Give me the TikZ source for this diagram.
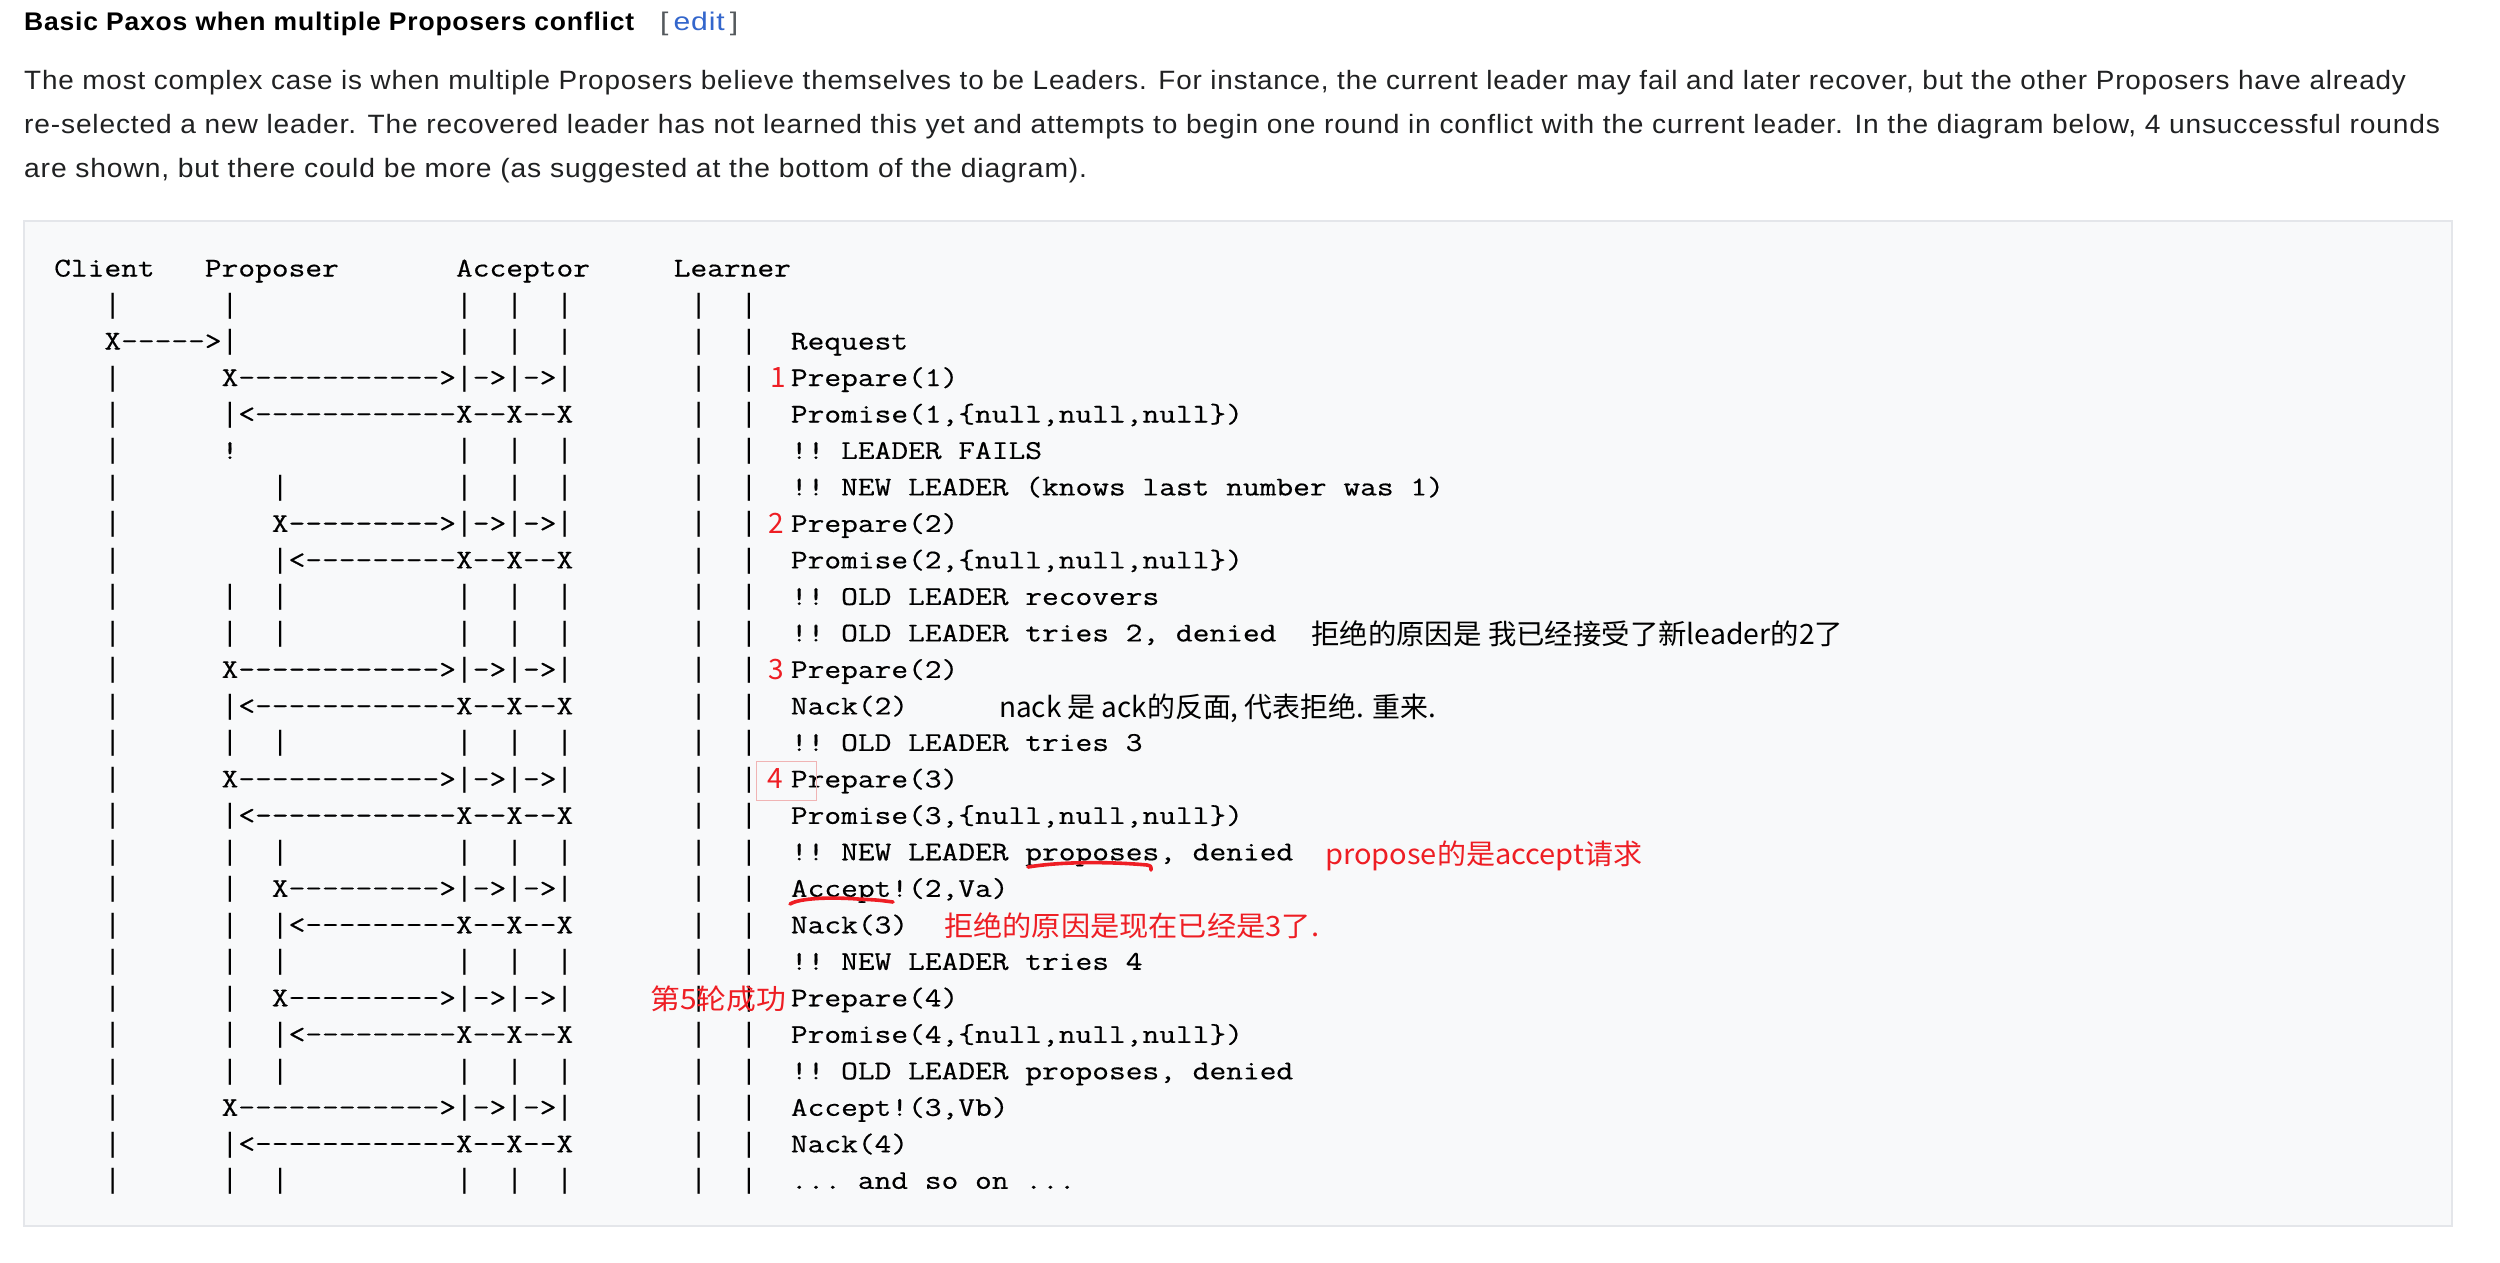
\documentclass[tikz,border=0pt]{standalone}
\usepackage{fontspec}
\usepackage{graphicx}
\setmainfont{Liberation Sans}
\newfontfamily\monof[Ligatures=TeXOff,FakeStretch=1.2,FakeBold=0.5]{Latin Modern Mono}
\newfontfamily\barf{Liberation Mono}
\newfontfamily\parf[LetterSpace=3]{Liberation Sans}
\newfontfamily\cjk{Noto Sans CJK SC}
\definecolor{annred}{RGB}{238,30,36}
\definecolor{boxbg}{RGB}{248,249,250}
\definecolor{boxline}{RGB}{228,230,234}
\definecolor{bodytext}{RGB}{32,33,34}
\definecolor{linkblue}{RGB}{51,102,204}
\definecolor{brackgray}{RGB}{84,89,93}
\definecolor{pinkbox}{RGB}{240,180,180}
\newlength\fitw
\newlength\mcw
\newcommand\fitto[2]{\settowidth\fitw{#2}\pgfmathsetmacro\fitf{#1/\fitw}\scalebox{\fitf}[1]{#2}}
% monospace font scaled so that one character cell is 16.743pt wide
\newcommand\monosetup{\monof\fontsize{27.7}{30}\selectfont
  \setlength\mcw{\fontcharwd\font`M}\pgfmathsetmacro\msz{27.7*16.743/\mcw}%
  \fontsize{\msz}{30}\selectfont\frenchspacing
  \fontdimen2\font=\fontcharwd\font`M\relax\fontdimen3\font=0pt\relax\fontdimen4\font=0pt\relax}
\newcommand\Sp[1]{\hspace*{#1\fontcharwd\font`M}}
% a full-height vertical bar in one character cell
\newcommand\VB{\makebox[16.743pt]{\barf\fontsize{27.9}{30}\selectfont|}}
\newcommand\AccB{\VB\Sp{2}\VB\Sp{2}\VB}
\newcommand\AccA{\VB->\VB->\VB}
\newcommand\AccX{X--X--X}
\newcommand\TailL{\Sp{7}\VB\Sp{2}\VB\Sp{2}}
\newcommand\LPa{\Sp{3}\VB\Sp{6}X------------>}
\newcommand\LPb{\Sp{3}\VB\Sp{6}\VB<------------}
\newcommand\LBar{\Sp{3}\VB\Sp{6}\VB\Sp{2}\VB\Sp{10}}
\newcommand\LNa{\Sp{3}\VB\Sp{6}\VB\Sp{2}X--------->}
\newcommand\LNb{\Sp{3}\VB\Sp{6}\VB\Sp{2}\VB<---------}
\begin{document}
\begin{tikzpicture}[x=1pt,y=-1pt,
  mono/.style={anchor=base west,inner sep=0pt,text=black,font=\monosetup},
  para/.style={anchor=base west,inner sep=0pt,text=bodytext,font=\parf\fontsize{26.5}{30}\selectfont},
  ttl/.style={anchor=base west,inner sep=0pt,text=black,font=\parf\bfseries\fontsize{25.5}{30}\selectfont},
  note/.style={anchor=base west,inner sep=0pt,text=black,font=\cjk\fontsize{28}{32}\selectfont},
  rednote/.style={note,text=annred},
  reddigit/.style={anchor=base,inner sep=0pt,text=annred,font=\cjk\fontsize{28}{30}\selectfont},
  scrib/.style={draw=annred,line width=3.6pt,line cap=round,line join=round}]
\fill[white] (0,0) rectangle (2500,1262);
\useasboundingbox (0,0) rectangle (2500,1262);
% heading and paragraph
\node[ttl] (title) at (24,30) {\fitto{610}{Basic Paxos when multiple Proposers conflict}};
\node[anchor=base west,inner sep=0pt,font=\parf\fontsize{25.5}{30}\selectfont] (edit) at (660,30)
  {\fitto{78}{\color{brackgray}[\,\color{linkblue}edit\color{brackgray}\,]}};
\node[para] (p1) at (24,89) {\fitto{2382}{The most complex case is when multiple Proposers believe themselves to be Leaders. For instance, the current leader may fail and later recover, but the other Proposers have already}};
\node[para] (p2) at (24,133) {\fitto{2416}{re-selected a new leader. The recovered leader has not learned this yet and attempts to begin one round in conflict with the current leader. In the diagram below, 4 unsuccessful rounds}};
\node[para] (p3) at (24,177) {\fitto{1063}{are shown, but there could be more (as suggested at the bottom of the diagram).}};
% code block
\draw[boxline,fill=boxbg,line width=1.5pt] (24,221) rectangle (2452,1226);
% ascii diagram rows
\node[mono] (r0)  at (54,276.5) {Client\Sp{3}Proposer\Sp{7}Acceptor\Sp{5}Learner};
\node[mono] (r1)  at (54,313.0) {\Sp{3}\VB\Sp{6}\VB\Sp{13}\AccB\TailL};
\node[mono] (r2)  at (54,349.5) {\Sp{3}X----->\VB\Sp{13}\AccB\TailL Request};
\node[mono] (r3)  at (54,386.0) {\LPa\AccA\TailL Prepare(1)};
\node[mono] (r4)  at (54,422.5) {\LPb\AccX\TailL Promise(1,\{null,null,null\})};
\node[mono] (r5)  at (54,458.9) {\Sp{3}\VB\Sp{6}!\Sp{13}\AccB\TailL !! LEADER FAILS};
\node[mono] (r6)  at (54,495.4) {\Sp{3}\VB\Sp{9}\VB\Sp{10}\AccB\TailL !! NEW LEADER (knows last number was 1)};
\node[mono] (r7)  at (54,531.9) {\Sp{3}\VB\Sp{9}X--------->\AccA\TailL Prepare(2)};
\node[mono] (r8)  at (54,568.4) {\Sp{3}\VB\Sp{9}\VB<---------\AccX\TailL Promise(2,\{null,null,null\})};
\node[mono] (r9)  at (54,604.9) {\LBar\AccB\TailL !! OLD LEADER recovers};
\node[mono] (r10) at (54,641.4) {\LBar\AccB\TailL !! OLD LEADER tries 2, denied};
\node[mono] (r11) at (54,677.9) {\LPa\AccA\TailL Prepare(2)};
\node[mono] (r12) at (54,714.4) {\LPb\AccX\TailL Nack(2)};
\node[mono] (r13) at (54,750.9) {\LBar\AccB\TailL !! OLD LEADER tries 3};
\node[mono] (r14) at (54,787.4) {\LPa\AccA\TailL Prepare(3)};
\node[mono] (r15) at (54,823.9) {\LPb\AccX\TailL Promise(3,\{null,null,null\})};
\node[mono] (r16) at (54,860.3) {\LBar\AccB\TailL !! NEW LEADER proposes, denied};
\node[mono] (r17) at (54,896.8) {\LNa\AccA\TailL Accept!(2,Va)};
\node[mono] (r18) at (54,933.3) {\LNb\AccX\TailL Nack(3)};
\node[mono] (r19) at (54,969.8) {\LBar\AccB\TailL !! NEW LEADER tries 4};
\node[mono] (r20) at (54,1006.3) {\LNa\AccA\TailL Prepare(4)};
\node[mono] (r21) at (54,1042.8) {\LNb\AccX\TailL Promise(4,\{null,null,null\})};
\node[mono] (r22) at (54,1079.3) {\LBar\AccB\TailL !! OLD LEADER proposes, denied};
\node[mono] (r23) at (54,1115.8) {\LPa\AccA\TailL Accept!(3,Vb)};
\node[mono] (r24) at (54,1152.3) {\LPb\AccX\TailL Nack(4)};
\node[mono] (r25) at (54,1188.8) {\LBar\AccB\TailL ... and so on ...};
% handwritten annotations
\node[reddigit] (n1) at (778,387) {1};
\node[reddigit] (n2) at (776,533) {2};
\node[reddigit] (n3) at (776,679) {3};
\node[reddigit] (n4) at (775,788) {4};
\draw[pinkbox,line width=1pt] (756,761) rectangle (816,800.5);
\node[note] (c10) at (1311,644) {\fitto{532}{拒绝的原因是 我已经接受了新leader的2了}};
\node[note] (c12) at (999,717) {\fitto{437}{nack 是 ack的反面, 代表拒绝. 重来.}};
\node[rednote] (c16) at (1325,864) {\fitto{317}{propose的是accept请求}};
\node[rednote] (c18) at (944,936) {\fitto{375}{拒绝的原因是现在已经是3了.}};
\node[rednote] (c20) at (650,1009) {\fitto{136}{第5轮成功}};
\draw[scrib] (1028,867) .. controls (1065,861) and (1115,862) .. (1147,865) .. controls (1151,866) .. (1151,870);
\draw[scrib] (790,904) .. controls (800,898) and (830,897) .. (858,899) .. controls (878,900) .. (893,902);
\end{tikzpicture}
\end{document}
